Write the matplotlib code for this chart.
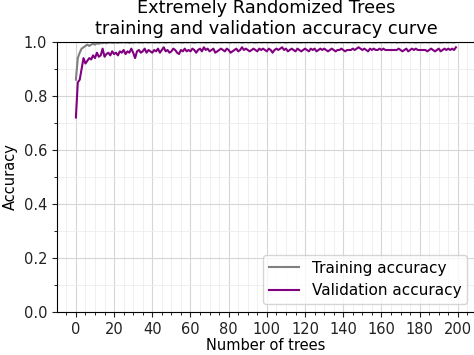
import matplotlib.pyplot as plt
import numpy as np
from matplotlib.ticker import MultipleLocator

# 数据
train_acc = [
    0.86, 0.94, 0.96, 0.975, 0.98, 0.985, 0.99, 0.985, 0.99, 0.993,
    0.99, 0.995, 0.993, 0.996, 0.995, 0.997, 0.995, 0.997, 0.998, 0.996,
    0.997, 0.998, 0.996, 0.998, 0.997, 0.999, 0.997, 0.998, 0.996, 0.998,
    0.997, 0.998, 0.999, 0.997, 0.998, 0.997, 0.999, 0.998, 0.997, 0.998,
    0.999, 0.997, 0.998, 0.998, 0.997, 0.999, 0.998, 0.997, 0.998, 0.999,
    0.998, 0.997, 0.998, 0.999, 0.998, 0.998, 0.997, 0.999, 0.998, 0.998,
    0.999, 0.998, 0.997, 0.998, 0.999, 0.998, 0.998, 0.999, 0.997, 0.998,
    0.998, 0.999, 0.998, 0.998, 0.997, 0.999, 0.998, 0.998, 0.999, 0.998,
    0.998, 0.997, 0.999, 0.998, 0.998, 0.999, 0.998, 0.997, 0.998, 0.999,
    0.998, 0.998, 0.999, 0.998, 0.997, 0.998, 0.999, 0.998, 0.998, 0.999,
    0.998, 0.998, 0.999, 0.997, 0.998, 0.999, 0.998, 0.998, 0.999, 0.998,
    0.997, 0.998, 0.999, 0.998, 0.998, 0.999, 0.998, 0.998, 0.997, 0.999,
    0.998, 0.998, 0.999, 0.998, 0.998, 0.999, 0.998, 0.997, 0.998, 0.999,
    0.998, 0.998, 0.999, 0.998, 0.998, 0.999, 0.997, 0.998, 0.999, 0.998,
    0.998, 0.999, 0.998, 0.998, 0.999, 0.998, 0.997, 0.998, 0.999, 0.998,
    0.998, 0.999, 0.998, 0.998, 0.999, 0.998, 0.998, 0.997, 0.999, 0.998,
    0.998, 0.999, 0.998, 0.998, 0.999, 0.998, 0.998, 0.999, 0.997, 0.998,
    0.999, 0.998, 0.998, 0.999, 0.998, 0.998, 0.999, 0.998, 0.997, 0.998,
    0.999, 0.998, 0.998, 0.999, 0.998, 0.998, 0.999, 0.998, 0.998, 0.999,
    0.998, 0.997, 0.998, 0.999, 0.998, 0.998, 0.999, 0.998, 0.998, 0.999,
]

val_acc = [
    0.72, 0.85, 0.86, 0.90, 0.94, 0.92, 0.93, 0.94, 0.935, 0.95,
    0.94, 0.96, 0.945, 0.95, 0.975, 0.945, 0.955, 0.96, 0.95, 0.965,
    0.955, 0.96, 0.95, 0.965, 0.96, 0.97, 0.955, 0.965, 0.96, 0.975,
    0.96, 0.94, 0.965, 0.97, 0.96, 0.965, 0.975, 0.96, 0.97, 0.965,
    0.96, 0.97, 0.965, 0.975, 0.96, 0.97, 0.98, 0.965, 0.97, 0.96,
    0.965, 0.975, 0.97, 0.96, 0.955, 0.97, 0.965, 0.975, 0.965, 0.97,
    0.965, 0.975, 0.97, 0.96, 0.97, 0.975, 0.965, 0.98, 0.97, 0.975,
    0.965, 0.97, 0.975, 0.96, 0.965, 0.97, 0.975, 0.97, 0.965, 0.975,
    0.97, 0.96, 0.965, 0.97, 0.975, 0.965, 0.97, 0.98, 0.97, 0.975,
    0.97, 0.965, 0.97, 0.975, 0.97, 0.965, 0.975, 0.97, 0.975, 0.97,
    0.965, 0.975, 0.97, 0.96, 0.97, 0.975, 0.97, 0.975, 0.98, 0.97,
    0.975, 0.965, 0.97, 0.975, 0.97, 0.965, 0.975, 0.97, 0.965, 0.97,
    0.975, 0.97, 0.965, 0.975, 0.97, 0.975, 0.965, 0.97, 0.975, 0.97,
    0.975, 0.97, 0.965, 0.97, 0.975, 0.97, 0.965, 0.97, 0.97, 0.975,
    0.97, 0.965, 0.97, 0.97, 0.97, 0.975, 0.97, 0.975, 0.98, 0.975,
    0.97, 0.975, 0.97, 0.965, 0.975, 0.97, 0.975, 0.97, 0.97, 0.975,
    0.97, 0.975, 0.97, 0.97, 0.97, 0.97, 0.97, 0.97, 0.97, 0.975,
    0.97, 0.965, 0.97, 0.975, 0.965, 0.97, 0.975, 0.97, 0.975, 0.97,
    0.97, 0.97, 0.97, 0.97, 0.965, 0.97, 0.975, 0.97, 0.965, 0.97,
    0.975, 0.965, 0.97, 0.975, 0.97, 0.975, 0.97, 0.975, 0.97, 0.98,
]

n_trees = np.arange(len(val_acc))

fig = plt.figure(figsize=(4.74, 3.55), dpi=100)
ax = fig.add_axes([0.12, 0.121, 0.882, 0.761])

ax.plot(n_trees, train_acc, color='grey', linewidth=1.5, label='Training accuracy')
ax.plot(n_trees, val_acc, color='purple', linewidth=1.5, label='Validation accuracy')

ax.set_ylim(0, 1.0)
ax.xaxis.set_major_locator(MultipleLocator(20))
ax.xaxis.set_minor_locator(MultipleLocator(5))
ax.yaxis.set_major_locator(MultipleLocator(0.2))
ax.yaxis.set_minor_locator(MultipleLocator(0.1))
ax.grid(which='major', color='#d6d6d6', linewidth=0.8)
ax.grid(which='minor', color='#ededed', linewidth=0.6)
ax.tick_params(labelsize=10.5, colors='#222222')

ax.set_title('Extremely Randomized Trees\ntraining and validation accuracy curve', fontsize=12.8)
ax.set_xlabel('Number of trees', fontsize=10.5, labelpad=1)
ax.set_ylabel('Accuracy', fontsize=10.5)
ax.legend(loc='lower right', fontsize=11)

plt.savefig('out.png')
